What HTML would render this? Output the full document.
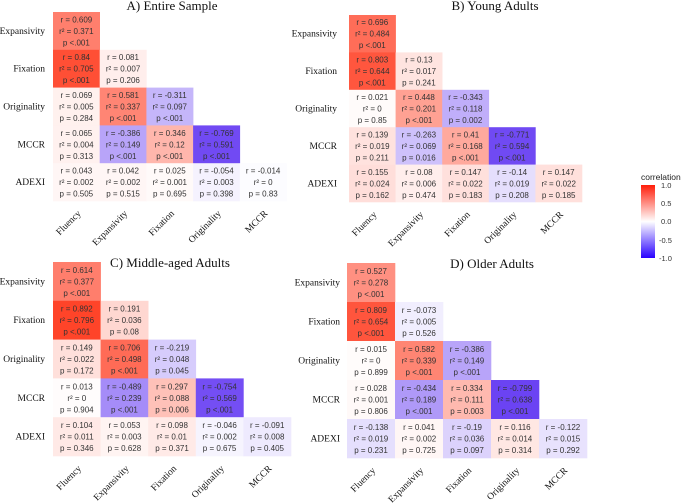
<!DOCTYPE html>
<html><head><meta charset="utf-8"><style>
body{margin:0;background:#fff;width:685px;height:503px;overflow:hidden}
svg{display:block}
</style></head><body>
<svg id="chart" width="685" height="503" viewBox="0 0 685 503" xmlns="http://www.w3.org/2000/svg">
<defs><linearGradient id="lg" x1="0" y1="0" x2="0" y2="1">
<stop offset="0" stop-color="rgb(255,30,10)"/><stop offset="0.5" stop-color="#fff"/><stop offset="1" stop-color="rgb(40,0,255)"/></linearGradient></defs>
<g>
<text x="641" y="180" font-family="Liberation Sans, sans-serif" font-size="8.5" fill="#222">correlation</text>
<rect x="641" y="185" width="14" height="73" fill="url(#lg)"/>
<g font-family="Liberation Sans, sans-serif" font-size="7.5" fill="#333">
<text x="661" y="188">1.0</text><text x="661" y="206">0.5</text><text x="661" y="224">0.0</text><text x="659" y="243">-0.5</text><text x="659" y="261">-1.0</text></g>
</g>
</svg>
<script>
const rowLabels=["Expansivity","Fixation","Originality","MCCR","ADEXI"];
const colLabels=["Fluency","Expansivity","Fixation","Originality","MCCR"];
const titles=["A) Entire Sample","B) Young Adults","C) Middle-aged Adults","D) Older Adults"];
const rA=["0.609","0.84","0.081","0.069","0.581","-0.311","0.065","-0.386","0.346","-0.769","0.043","0.042","0.025","-0.054","-0.014"];
const r2A=["0.371","0.705","0.007","0.005","0.337","0.097","0.004","0.149","0.12","0.591","0.002","0.002","0.001","0.003","0"];
const pA=["<.001","<.001","0.206","0.284","<.001","<.001","0.313","<.001","<.001","<.001","0.505","0.515","0.695","0.398","0.83"];
const rB=["0.696","0.803","0.13","0.021","0.448","-0.343","0.139","-0.263","0.41","-0.771","0.155","0.08","0.147","-0.14","0.147"];
const r2B=["0.484","0.644","0.017","0","0.201","0.118","0.019","0.069","0.168","0.594","0.024","0.006","0.022","0.019","0.022"];
const pB=["<.001","<.001","0.241","0.85","<.001","0.002","0.211","0.016","<.001","<.001","0.162","0.474","0.183","0.208","0.185"];
const rC=["0.614","0.892","0.191","0.149","0.706","-0.219","0.013","-0.489","0.297","-0.754","0.104","0.053","0.098","-0.046","-0.091"];
const r2C=["0.377","0.796","0.036","0.022","0.498","0.048","0","0.239","0.088","0.569","0.011","0.003","0.01","0.002","0.008"];
const pC=["<.001","<.001","0.08","0.172","<.001","0.045","0.904","<.001","0.006","<.001","0.346","0.628","0.371","0.675","0.405"];
const rD=["0.527","0.809","-0.073","0.015","0.582","-0.386","0.028","-0.434","0.334","-0.799","-0.138","0.041","-0.19","0.116","-0.122"];
const r2D=["0.278","0.654","0.005","0","0.339","0.149","0.001","0.189","0.111","0.638","0.019","0.002","0.036","0.014","0.015"];
const pD=["<.001","<.001","0.526","0.899","<.001","<.001","0.806","<.001","0.003","<.001","0.231","0.725","0.097","0.314","0.292"];
const panels=[
 {r:rA,r2:r2A,p:pA,x0:53,y0:12,cw:46.7,rh:37.8,tx:172,ty:10,lx:45},
 {r:rB,r2:r2B,p:pB,x0:349,y0:15,cw:46.6,rh:37.4,tx:495,ty:10,lx:337},
 {r:rC,r2:r2C,p:pC,x0:53,y0:262,cw:47.6,rh:38.8,tx:170,ty:267,lx:45},
 {r:rD,r2:r2D,p:pD,x0:347,y0:263,cw:48,rh:39,tx:492,ty:268,lx:340}];
const NS="http://www.w3.org/2000/svg";
const svg=document.getElementById('chart');
function mk(t,a,par){const e=document.createElementNS(NS,t);for(const k in a)e.setAttribute(k,a[k]);par.appendChild(e);return e;}
function color(v){v=Math.max(-1,Math.min(1,v));
 const end=v>=0?[255,45,15]:[70,20,240];const t=Math.abs(v);
 return `rgb(${Math.round(255+(end[0]-255)*t)},${Math.round(255+(end[1]-255)*t)},${Math.round(255+(end[2]-255)*t)})`;}
panels.forEach((P,pi)=>{
 const g=mk('g',{},svg);
 
 
 const tt=mk('text',{x:P.tx,y:P.ty,'text-anchor':'middle','font-family':'Liberation Serif, serif','font-size':'13',fill:'#111'},g);
 tt.textContent=titles[pi];
 
 
 let k=0;
 for(let i=0;i<5;i++){
  const cy=P.y0+P.rh*(i+0.5);
  const rl=mk('text',{x:P.lx,y:cy+3,'text-anchor':'end','font-family':'Liberation Serif, serif','font-size':'9.5',fill:'#111'},g);
  rl.textContent=rowLabels[i];
  
  
  for(let j=0;j<=i;j++){
   const x=P.x0+P.cw*j,y=P.y0+P.rh*i;
   const cell=mk('g',{},g);
   
   
   mk('rect',{x:x,y:y,width:P.cw+0.3,height:P.rh+0.3,fill:color(parseFloat(P.r[k]))},cell);
   const lines=['r = '+P.r[k],'r\u00B2 = '+P.r2[k],(P.p[k][0]=='<'?'p '+P.p[k]:'p = '+P.p[k])];
   lines.forEach((s,li)=>{const t=mk('text',{x:x+P.cw/2,y:y+P.rh/2+(li-1)*11.5+3,'text-anchor':'middle','font-family':'Liberation Sans, sans-serif','font-size':'8',fill:'#333'},cell);t.textContent=s;});
   k++;
  }
 }
 const by=P.y0+P.rh*5;
 colLabels.forEach((c,j)=>{
  const cx=P.x0+P.cw*(j+0.5)+5,cyy=by+13;
  const t=mk('text',{x:cx,y:cyy,'text-anchor':'end','font-family':'Liberation Serif, serif','font-size':'9.5',fill:'#111',transform:`rotate(-45 ${cx} ${cyy})`},g);
  t.textContent=c;
  
  
 });
});
</script>
</body></html>
